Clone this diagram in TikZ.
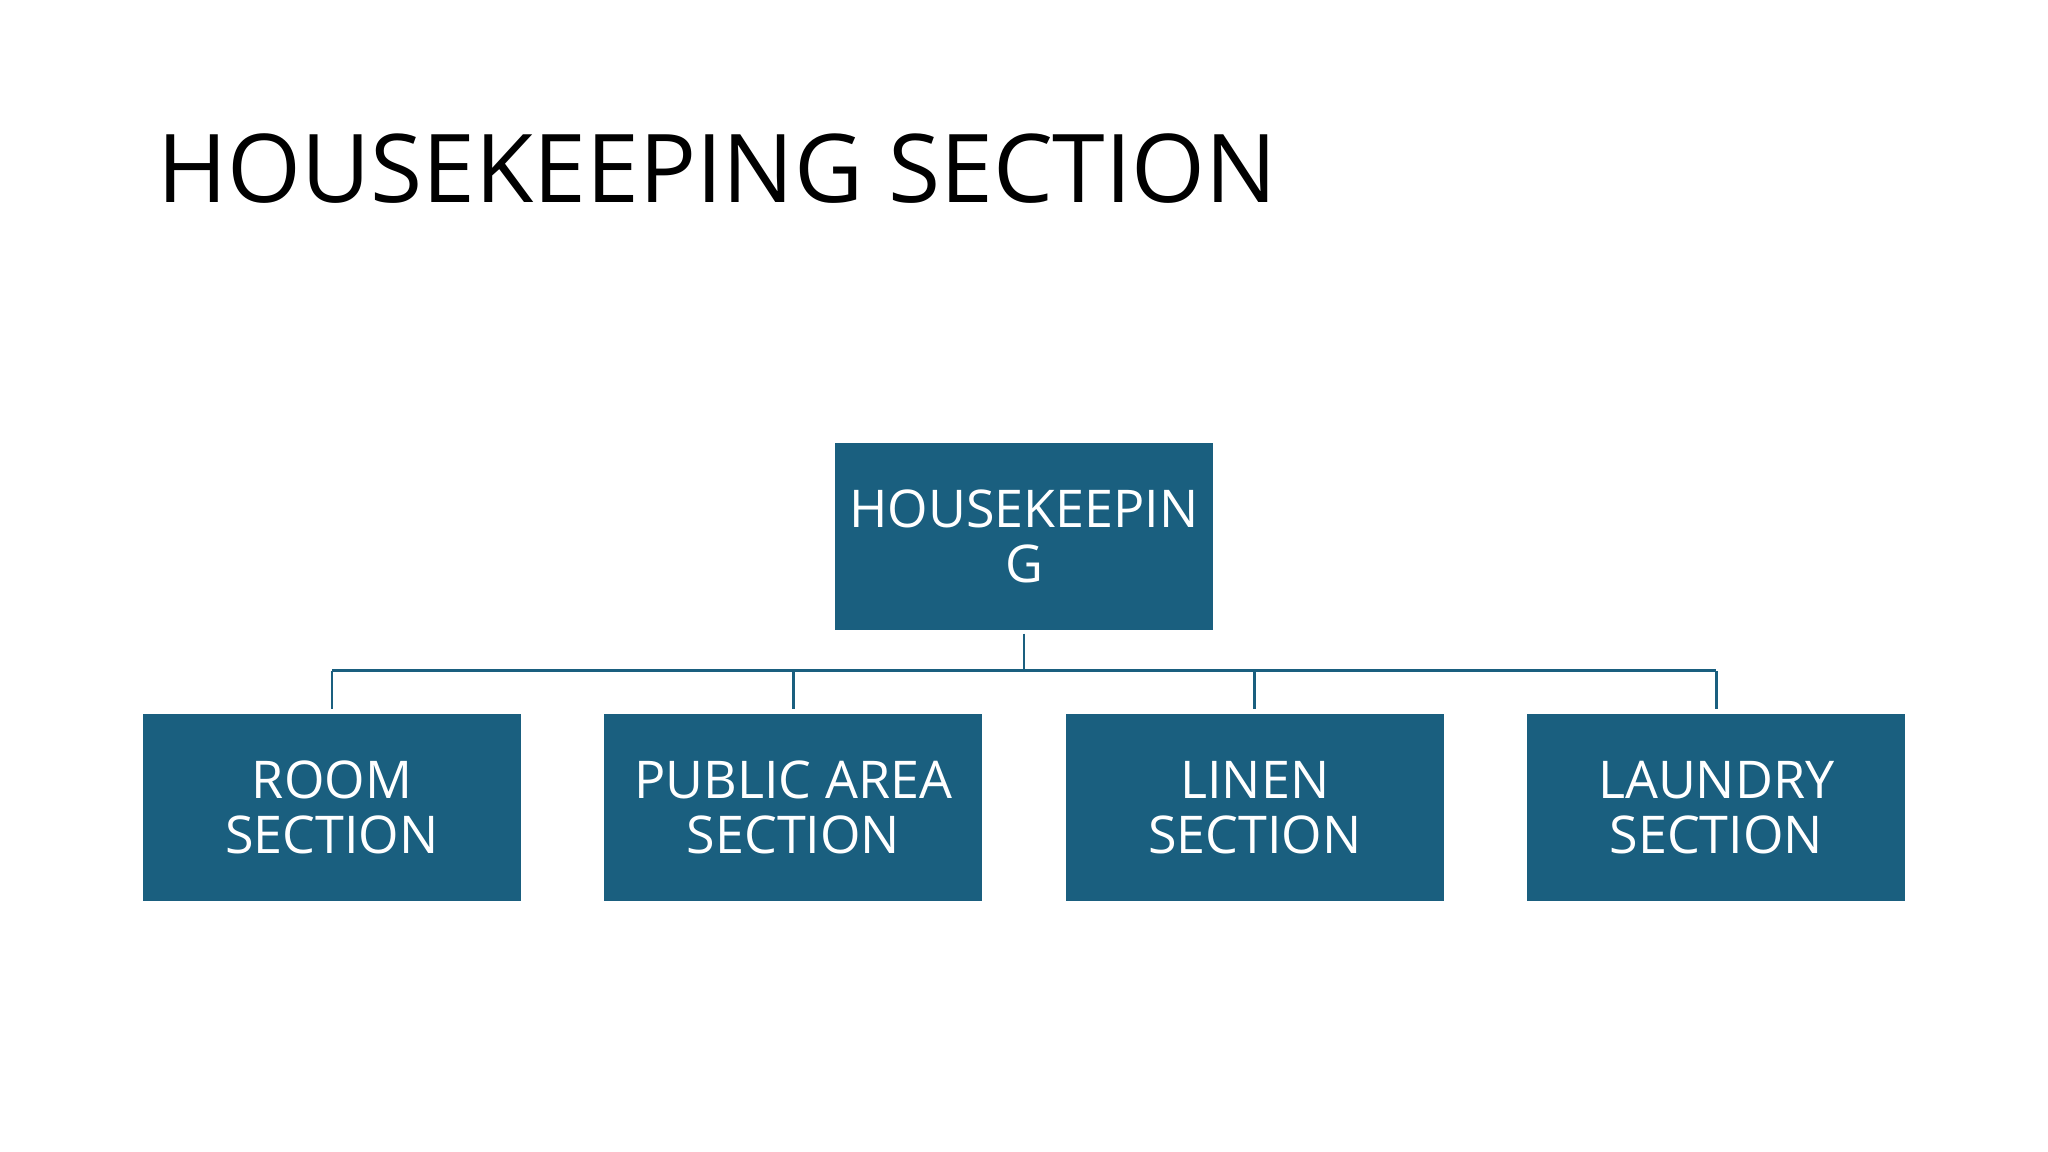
\documentclass[tikz,border=0pt]{standalone}
\usepackage{fontspec}
\setmainfont{Open Sans}
\usetikzlibrary{positioning}
\definecolor{hkblue}{HTML}{1A5F7F}

\begin{document}
\begin{tikzpicture}[
  unit/.style={fill=hkblue, text=white, minimum width=3.78cm, minimum height=1.87cm,
    inner sep=0pt, align=center, font=\fontsize{14.8}{15.6}\selectfont},
  link/.style={draw=hkblue, line width=0.85pt},
]
\useasboundingbox (0,0) rectangle (20.48,11.52);

\node[anchor=base west, inner sep=0pt, font=\fontsize{27}{32}\selectfont] (title) at (1.57,9.49) {HOUSEKEEPING SECTION};

\node[unit] (hk) at (10.24,6.155) {HOUSEKEEPIN\\G};

\node[unit] (room) at (3.32,3.445) {ROOM\\SECTION};
\node[unit, right=0.82cm of room] (public) {PUBLIC AREA\\SECTION};
\node[unit, right=0.82cm of public] (linen) {LINEN\\SECTION};
\node[unit, right=0.82cm of linen] (laundry) {LAUNDRY\\SECTION};

\coordinate (bus) at (10.24,4.81);

\draw[link, shorten <=0.03cm] (hk.south) -- (hk.south |- bus);
\draw[link] (room.north |- bus) -- (laundry.north |- bus);
\draw[link, shorten >=0.04cm] (room.north |- bus) -- (room.north);
\draw[link, shorten >=0.04cm] (public.north |- bus) -- (public.north);
\draw[link, shorten >=0.04cm] (linen.north |- bus) -- (linen.north);
\draw[link, shorten >=0.04cm] (laundry.north |- bus) -- (laundry.north);
\end{tikzpicture}
\end{document}
